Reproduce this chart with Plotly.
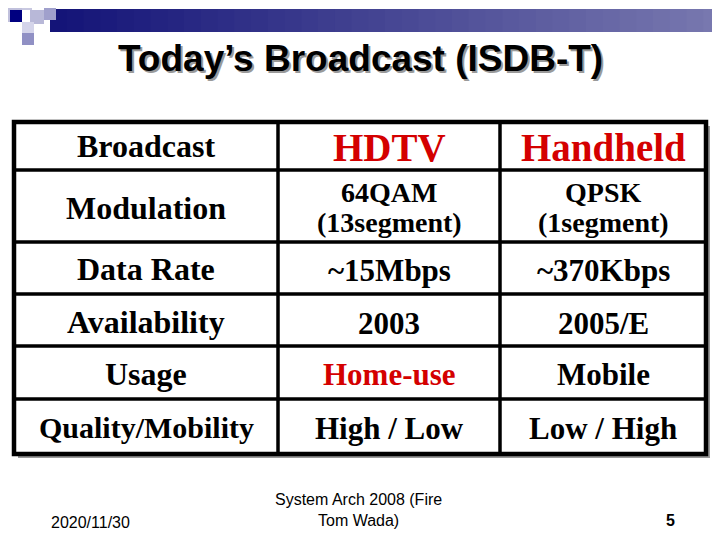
import plotly.graph_objects as go

row_labels = ["Broadcast", "Modulation", "Data Rate", "Availability", "Usage", "Quality/Mobility"]
hdtv = ["HDTV", "64QAM<br>(13segment)", "~15Mbps", "2003", "Home-use", "High / Low"]
handheld = ["Handheld", "QPSK<br>(1segment)", "~370Kbps", "2005/E", "Mobile", "Low / High"]
title = "Today’s Broadcast (ISDB-T)"
footer_date = "2020/11/30"
footer_center = "System Arch 2008 (Fire<br>Tom Wada)"
page_no = "5"

row_edges = [122, 170, 242, 294, 346, 399, 454]
col_edges = [14, 278, 500, 706]
row_text_y = [146, 207, 270, 323, 374, 428]
label_y = [146, 208, 269, 322, 374, 427]

fig = go.Figure()
shapes = []
ann = []

n = 40
x0, x1 = 50, 720
c0, c1 = (20, 20, 120), (120, 120, 175)
for i in range(n):
    t = i / (n - 1)
    col = "rgb(%d,%d,%d)" % tuple(int(c0[k] + (c1[k] - c0[k]) * t) for k in range(3))
    shapes.append(dict(type="rect", x0=x0 + (x1 - x0) * i / n, x1=x0 + (x1 - x0) * (i + 1) / n + 1,
                       y0=9, y1=32, line=dict(width=0), fillcolor=col, layer="below"))
for (sx, sy, s, col) in [(0, 0, 10, "#e6e6f2"), (22, 0, 10, "#c8c8e0"), (8, 8, 14, "#c0c0dc"),
                         (10, 10, 12, "#000080"), (30, 10, 14, "#b8b8d8"), (44, 8, 12, "#a0a0cc"),
                         (22, 22, 12, "#d4d4ea"), (22, 33, 12, "#9090c4")]:
    shapes.append(dict(type="rect", x0=sx, x1=sx + s, y0=sy, y1=sy + s, line=dict(width=0), fillcolor=col))

ann.append(dict(x=362, y=60, text="<b>" + title + "</b>", showarrow=False,
                font=dict(family="Liberation Sans", size=37, color="#9a9a9a")))
ann.append(dict(x=360, y=58, text="<b>" + title + "</b>", showarrow=False,
                font=dict(family="Liberation Sans", size=37, color="black")))

shapes.append(dict(type="rect", x0=col_edges[0] + 4, x1=col_edges[-1] + 4, y0=row_edges[0] + 4,
                   y1=row_edges[-1] + 4, line=dict(width=0), fillcolor="#999999"))
shapes.append(dict(type="rect", x0=col_edges[0], x1=col_edges[-1], y0=row_edges[0], y1=row_edges[-1],
                   line=dict(width=4.5, color="black"), fillcolor="white"))
for y in row_edges[1:-1]:
    shapes.append(dict(type="line", x0=col_edges[0], x1=col_edges[-1], y0=y, y1=y,
                       line=dict(width=3.5, color="black")))
for x in col_edges[1:-1]:
    shapes.append(dict(type="line", x0=x, x1=x, y0=row_edges[0], y1=row_edges[-1],
                       line=dict(width=3.5, color="black")))

serif = "Liberation Serif"
for i, lab in enumerate(row_labels):
    ann.append(dict(x=(col_edges[0] + col_edges[1]) / 2, y=label_y[i], text="<b>" + lab + "</b>", showarrow=False,
                    font=dict(family=serif, size=32 if i < 5 else 30, color="black")))
for col_vals, cx in [(hdtv, (col_edges[1] + col_edges[2]) / 2), (handheld, (col_edges[2] + col_edges[3]) / 2)]:
    for i, v in enumerate(col_vals):
        color = "#d40000" if (i == 0 or (i == 4 and col_vals is hdtv)) else "black"
        size = 39 if i == 0 else (28 if i == 1 else 31)
        lines = v.split("<br>")
        if len(lines) == 2:
            for j, ln in enumerate(lines):
                ann.append(dict(x=cx, y=row_text_y[i] - 15 + 30 * j, text="<b>" + ln + "</b>", showarrow=False,
                                font=dict(family=serif, size=size, color=color)))
        else:
            ann.append(dict(x=cx, y=row_text_y[i] + (1 if i == 0 else 0), text="<b>" + v + "</b>", showarrow=False,
                            font=dict(family=serif, size=size, color=color)))

ann.append(dict(x=90, y=522, text=footer_date, showarrow=False,
                font=dict(family="Liberation Sans", size=16, color="black")))
ann.append(dict(x=358, y=510, text=footer_center, showarrow=False, align="center",
                font=dict(family="Liberation Sans", size=16, color="black")))
ann.append(dict(x=670, y=520, text="<b>" + page_no + "</b>", showarrow=False,
                font=dict(family="Liberation Sans", size=16, color="black")))

fig.update_layout(width=720, height=540, margin=dict(l=0, r=0, t=0, b=0),
                  plot_bgcolor="white", paper_bgcolor="white", shapes=shapes, annotations=ann,
                  xaxis=dict(range=[8, 728], visible=False, fixedrange=True),
                  yaxis=dict(range=[548, 8], visible=False, fixedrange=True),
                  showlegend=False)
fig.write_html("out.html", config={"displayModeBar": False})
